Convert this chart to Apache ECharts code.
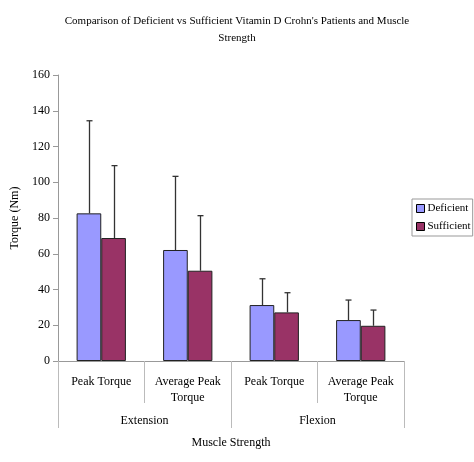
<!DOCTYPE html>
<html>
<head>
<meta charset="utf-8">
<script src="https://cdn.jsdelivr.net/npm/echarts@6/dist/echarts.min.js"></script>
<style>
  html, body { margin: 0; padding: 0; background: #fff; }
  #chart { width: 474px; height: 462px; }
</style>
</head>
<body>
<div id="chart"></div>
<script>
  // values
  const measures = ['Peak Torque', 'Average Peak\nTorque', 'Peak Torque', 'Average Peak\nTorque'];
  const groups = ['Extension', 'Flexion'];
  const deficient = [82.6, 62.1, 31.3, 22.9];
  const sufficient = [68.8, 50.5, 27.2, 19.7];
  const deficientErrTop = [134.4, 103.3, 46.0, 34.1];
  const sufficientErrTop = [109.3, 81.3, 38.2, 28.5];
  const yTicks = { min: 0, max: 160, interval: 20 };

  const serif = '"Liberation Serif", "DejaVu Serif", serif';
  const catGap = 0.43;

  function errorSeries(values, tops, side) {
    return {
      type: 'custom',
      xAxisIndex: 0,
      z: 5,
      silent: true,
      data: values.map((v, i) => [i, v, tops[i]]),
      renderItem: function (params, api) {
        const i = api.value(0);
        const base = api.coord([i, api.value(1)]);
        const top = api.coord([i, api.value(2)]);
        const bw = api.size([1, 0])[0] * (1 - catGap) / 2;
        const x = Math.round(base[0] + side * bw / 2) + 0.5;
        const style = { stroke: '#333', lineWidth: 1.3 };
        return {
          type: 'group',
          children: [
            { type: 'line', shape: { x1: x, y1: base[1], x2: x, y2: top[1] }, style },
            { type: 'line', shape: { x1: x - 3, y1: top[1], x2: x + 3, y2: top[1] }, style }
          ]
        };
      }
    };
  }

  const chart = echarts.init(document.getElementById('chart'));
  chart.setOption({
    animation: false,
    textStyle: { fontFamily: serif, color: '#000' },
    title: {
      text: "Comparison of Deficient vs Sufficient Vitamin D Crohn's Patients and Muscle\nStrength",
      left: 'center',
      top: 8,
      textStyle: { fontFamily: serif, fontSize: 11, fontWeight: 'normal', color: '#000', lineHeight: 17 }
    },
    legend: {
      orient: 'vertical',
      left: 412,
      top: 199,
      width: 60,
      padding: [4, 2, 4, 4],
      itemGap: 7,
      itemWidth: 8,
      itemHeight: 8,
      itemStyle: { borderColor: '#000', borderWidth: 1 },
      borderColor: '#999',
      borderWidth: 1,
      textStyle: { fontFamily: serif, fontSize: 11, color: '#000', padding: [0, 0, 0, -2] },
      data: [{ name: 'Deficient', icon: 'rect' }, { name: 'Sufficient', icon: 'rect' }]
    },
    grid: { left: 58, right: 70, top: 75, bottom: 101 },
    xAxis: [
      {
        type: 'category',
        data: measures,
        axisLine: { lineStyle: { color: '#999' } },
        axisTick: { show: true, interval: 0, length: 42, lineStyle: { color: '#bbb' } },
        axisLabel: { interval: 0, margin: 13, fontFamily: serif, fontSize: 12, color: '#000', lineHeight: 16 }
      },
      {
        type: 'category',
        position: 'bottom',
        data: groups,
        axisLine: { show: false },
        axisTick: { show: true, interval: 0, length: 67, lineStyle: { color: '#bbb' } },
        axisLabel: { interval: 0, margin: 54, fontFamily: serif, fontSize: 12, color: '#000' },
        name: 'Muscle Strength',
        nameLocation: 'middle',
        nameGap: 76,
        nameTextStyle: { fontFamily: serif, fontSize: 12, color: '#000' }
      }
    ],
    yAxis: {
      type: 'value',
      min: yTicks.min,
      max: yTicks.max,
      interval: yTicks.interval,
      name: 'Torque (Nm)',
      nameLocation: 'middle',
      nameGap: 35,
      nameTextStyle: { fontFamily: serif, fontSize: 12, color: '#000' },
      axisLine: { show: true, lineStyle: { color: '#999' } },
      axisTick: { show: true, length: 5, lineStyle: { color: '#999' } },
      splitLine: { show: false },
      axisLabel: { margin: 8, fontFamily: serif, fontSize: 12, color: '#000' }
    },
    series: [
      {
        name: 'Deficient',
        type: 'bar',
        xAxisIndex: 0,
        barGap: '0%',
        barCategoryGap: (catGap * 100) + '%',
        data: deficient,
        itemStyle: { color: '#9999FF', borderColor: '#222', borderWidth: 1 }
      },
      {
        name: 'Sufficient',
        type: 'bar',
        xAxisIndex: 0,
        data: sufficient,
        itemStyle: { color: '#993366', borderColor: '#222', borderWidth: 1 }
      },
      errorSeries(deficient, deficientErrTop, -1),
      errorSeries(sufficient, sufficientErrTop, 1)
    ]
  });
</script>
</body>
</html>
